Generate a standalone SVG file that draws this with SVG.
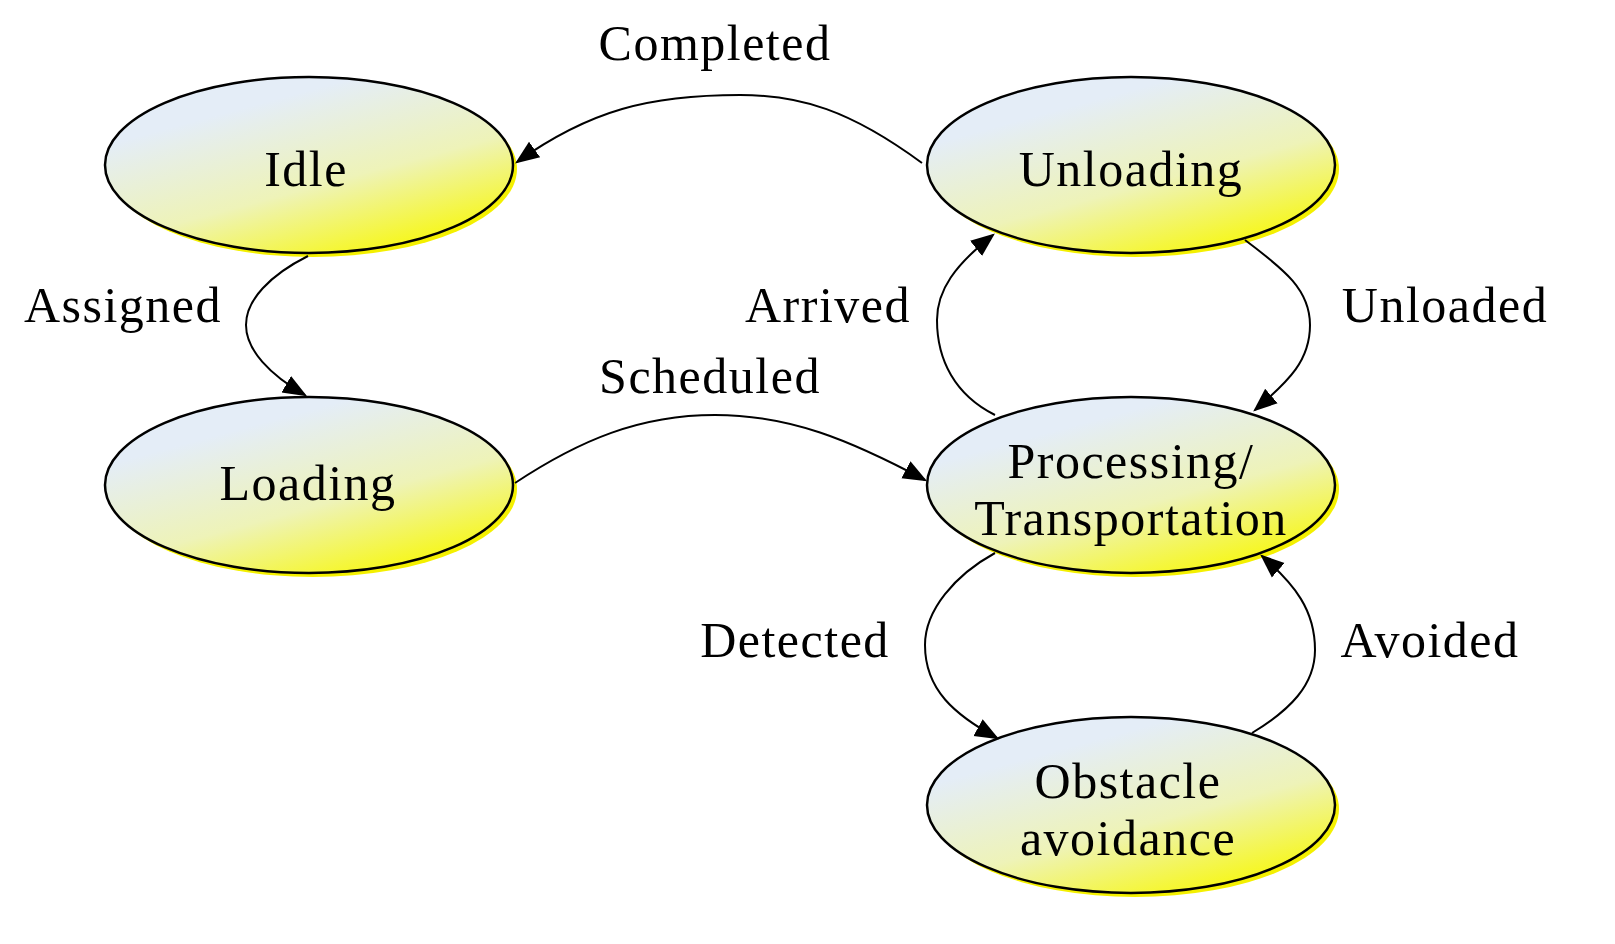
<svg xmlns="http://www.w3.org/2000/svg" width="1615" height="944" viewBox="0 0 1615 944">
<defs>
<linearGradient id="g" x1="0.3" y1="0.2" x2="0.8" y2="1">
<stop offset="0" stop-color="#e4edf7"/><stop offset="0.5" stop-color="#eef3b8"/><stop offset="1" stop-color="#f8f800"/>
</linearGradient>
<marker id="b" viewBox="0 0 10 10" refX="9" refY="5" markerWidth="24" markerHeight="24" markerUnits="userSpaceOnUse" orient="auto"><path d="M0,1L10,5L0,9z" fill="#000"/></marker>
</defs>
<style>
.s{fill:#f4f000}
.e{fill:url(#g);stroke:#000;stroke-width:2.5}
text{font-family:"Liberation Serif",serif;font-size:50px;letter-spacing:1.5px;text-anchor:middle;fill:#000}
.c{fill:none;stroke:#000;stroke-width:2;marker-end:url(#b)}
</style>
<rect width="1615" height="944" fill="#fff"/>
<g id="idle"><ellipse class="s" cx="313" cy="169" rx="204" ry="88"/><ellipse class="e" cx="309" cy="165" rx="204" ry="88"/><text x="306" y="186">Idle</text></g>
<g id="unloading"><ellipse class="s" cx="1135" cy="169" rx="204" ry="88"/><ellipse class="e" cx="1131" cy="165" rx="204" ry="88"/><text x="1131" y="186">Unloading</text></g>
<g id="loading"><ellipse class="s" cx="313" cy="489" rx="204" ry="88"/><ellipse class="e" cx="309" cy="485" rx="204" ry="88"/><text x="308" y="500">Loading</text></g>
<g id="processing"><ellipse class="s" cx="1135" cy="489" rx="204" ry="88"/><ellipse class="e" cx="1131" cy="485" rx="204" ry="88"/><text x="1131" y="478">Processing/</text><text x="1131" y="535">Transportation</text></g>
<g id="obstacle"><ellipse class="s" cx="1135" cy="809" rx="204" ry="88"/><ellipse class="e" cx="1131" cy="805" rx="204" ry="88"/><text x="1128" y="798">Obstacle</text><text x="1128" y="855">avoidance</text></g>
<g id="connectors">
<path class="c" d="M922,163C850,110 800,95 740,95C650,95 590,110 517,162"/>
<path class="c" d="M308,256C270,275 246,300 246,325C246,350 270,375 305,395"/>
<path class="c" d="M515,483C580,440 640,415 715,415C790,415 850,440 925,480"/>
<path class="c" d="M995,415C955,395 937,360 937,320C937,290 955,265 993,235"/>
<path class="c" d="M1245,240C1285,270 1310,290 1310,325C1310,360 1290,380 1255,410"/>
<path class="c" d="M995,553C955,575 925,610 925,645C925,690 955,715 997,738"/>
<path class="c" d="M1252,733C1290,710 1315,685 1315,650C1315,610 1295,585 1262,556"/>
</g>
<g id="labels">
<text x="715" y="60">Completed</text>
<text x="123" y="322">Assigned</text>
<text x="710" y="393">Scheduled</text>
<text x="828" y="322">Arrived</text>
<text x="1445" y="322">Unloaded</text>
<text x="795" y="657">Detected</text>
<text x="1430" y="657">Avoided</text>
</g>
</svg>
